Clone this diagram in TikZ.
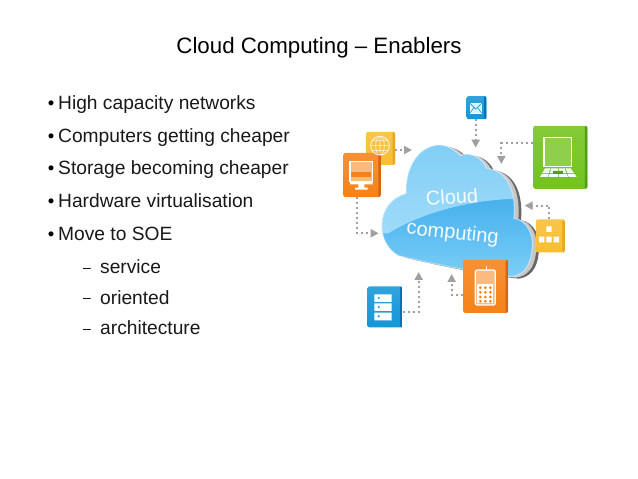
\documentclass[tikz,border=0pt]{standalone}
\usepackage{fontspec}
\setmainfont{Liberation Sans}
\usetikzlibrary{arrows.meta, calc}
\definecolor{skytop}{RGB}{128, 206, 246}
\definecolor{skymid}{RGB}{72, 176, 236}
\definecolor{skylow}{RGB}{125, 208, 248}
\definecolor{iconblue}{RGB}{20, 150, 215}
\definecolor{iconorange}{RGB}{245, 130, 25}
\definecolor{icongreen}{RGB}{115, 195, 30}
\definecolor{iconyellow}{RGB}{248, 190, 50}
\definecolor{sideblue}{RGB}{15, 110, 175}
\definecolor{sideorange}{RGB}{215, 100, 15}
\definecolor{sidegreen}{RGB}{80, 160, 20}
\definecolor{sideyellow}{RGB}{235, 165, 30}
\definecolor{arrowgray}{RGB}{160, 160, 160}
\newcommand{\cloudpath}{(205,512) .. controls (165,490) and (148,440) .. (158,400)
    .. controls (165,360) and (195,335) .. (228,325)
    .. controls (225,260) and (255,190) .. (320,180)
    .. controls (350,177) and (375,195) .. (390,212)
    .. controls (415,198) and (455,215) .. (470,250)
    .. controls (520,255) and (560,300) .. (552,400)
    .. controls (590,405) and (615,450) .. (605,500)
    .. controls (600,545) and (580,570) .. (545,575)
    .. controls (450,565) and (300,535) .. (205,512) -- cycle}
\tikzset{
    itemtext/.style={anchor=base west, inner sep=0pt, font=\fontsize{19.2}{21}\selectfont, text=black!90},
    bulletmark/.style={anchor=base, inner sep=0pt, font=\fontsize{18.5}{20}\selectfont},
    dashmark/.style={anchor=base, inner sep=0pt, font=\fontsize{14}{16}\selectfont},
    iconbox/.style n args={4}{rounded corners=2pt, inner sep=0pt, minimum width=#1, minimum height=#2, top color=#3!88!white, bottom color=#3,
        path picture={\fill[#4] ($(path picture bounding box.north east)+(-2.5pt,0)$) rectangle (path picture bounding box.south east);}},
    flowline/.style={arrowgray, line width=2pt, dash pattern=on 2pt off 3pt, -{Triangle[length=8pt, width=8pt]}},
    glyph/.style={white, line width=0.9pt},
    cloudword/.style={white!92!skytop, inner sep=0pt, font=\fontsize{20}{22}\selectfont}
}
\begin{document}
\begin{tikzpicture}[x=1pt, y=-1pt]
    \useasboundingbox (0,0) rectangle (638,479);
    \fill[white] (0,0) rectangle (638,479);

    % Title
    \node[anchor=base, inner sep=0pt, font=\fontsize{22.3}{24}\selectfont] (title) at (319,53) {Cloud Computing – Enablers};

    % Bullet list
    \node[bulletmark] (b1) at (51,109) {•};
    \node[itemtext] (t1) at (58,109) {High capacity networks};
    \node[bulletmark] (b2) at (51,142) {•};
    \node[itemtext] (t2) at (58,142) {Computers getting cheaper};
    \node[bulletmark] (b3) at (51,174) {•};
    \node[itemtext] (t3) at (58,174) {Storage becoming cheaper};
    \node[bulletmark] (b4) at (51,207) {•};
    \node[itemtext] (t4) at (58,207) {Hardware virtualisation};
    \node[bulletmark] (b5) at (51,240) {•};
    \node[itemtext] (t5) at (58,240) {Move to SOE};

    % Sub list
    \node[dashmark] (d1) at (87,272) {–};
    \node[itemtext] (s1) at (100,273) {service};
    \node[dashmark] (d2) at (87,302) {–};
    \node[itemtext] (s2) at (100,304) {oriented};
    \node[dashmark] (d3) at (87,333) {–};
    \node[itemtext] (s3) at (100,334) {architecture};

    % Artwork, in 3x units
    \begin{scope}[shift={(330,85)}, scale=1/3]
        % Cloud body
        \fill[black!60] [shift={(21,6)}] \cloudpath;
        \fill[black!22] [shift={(13,3)}] \cloudpath;
        \begin{scope}
            \clip \cloudpath;
            \shade[top color=skymid, bottom color=skylow] (140,340) rectangle (630,590);
            \shade[top color=skytop, bottom color=skytop!75!white] (140,170) -- (570,170) -- (570,342)
                .. controls (430,340) and (270,385) .. (175,445) -- (140,445) -- cycle;
        \end{scope}
        \draw[white, opacity=0.4, line width=1.2pt] \cloudpath;
        \node[cloudword, rotate=4] (cloudtxt) at (366,336) {Cloud};
        \node[cloudword, rotate=-6] (computingtxt) at (368,446) {computing};

        % Icons
        \node[iconbox={20pt}{23pt}{iconblue}{sideblue}] (mail) at (440,68) {};
        \node[iconbox={29pt}{33pt}{iconyellow}{sideyellow}] (globe) at (152,190) {};
        \node[iconbox={37.5pt}{44pt}{iconorange}{sideorange}] (monitor) at (96,270) {};
        \node[iconbox={54pt}{63pt}{icongreen}{sidegreen}] (laptop) at (691,217) {};
        \node[iconbox={29pt}{33pt}{iconyellow}{sideyellow}] (blocks) at (661,453) {};
        \node[iconbox={45pt}{53pt}{iconorange}{sideorange}] (phone) at (467,604) {};
        \node[iconbox={35pt}{41pt}{iconblue}{sideblue}] (server) at (165,666) {};

        % Mail glyph
        \draw[glyph, fill=white!85!cyan] (420,55) rectangle (455,84);
        \draw[iconblue, line width=0.6pt] (420,55) -- (437,72) -- (455,55) (420,84) -- (432,67) (455,84) -- (442,67);

        % Globe glyph
        \draw[glyph, opacity=0.8] (150,182) circle (28);
        \draw[glyph, opacity=0.8, line width=0.6pt] (150,182) ellipse (13 and 28) (122,182) -- (178,182) (127,167) -- (173,167) (127,197) -- (173,197) (150,154) -- (150,210);

        % Monitor glyph
        \fill[iconorange!55!white] (60,230) rectangle (128,290);
        \draw[glyph, line width=1.2pt] (60,230) rectangle (128,290);
        \fill[iconorange] (64,262) rectangle (124,275);
        \fill[white] (60,290) rectangle (128,298) (85,298) rectangle (103,308) (75,308) rectangle (113,314);

        % Laptop glyph
        \draw[glyph, line width=1.3pt, fill=icongreen!80!white] (642,158) rectangle (724,245);
        \fill[white] (645,250) -- (722,250) -- (740,276) -- (630,276) -- cycle;
        \draw[sidegreen, line width=0.4pt] (640,258) -- (728,258) (636,266) -- (734,266) (662,250) -- (655,276) (685,250) -- (685,276) (705,250) -- (715,276);
        \fill[sidegreen] (668,258) rectangle (700,268);

        % Blocks glyph
        \fill[white] (649,424) rectangle (665,441) (627,455) rectangle (643,472) (649,455) rectangle (665,472) (671,455) rectangle (687,472);

        % Phone glyph
        \draw[glyph, line width=1.3pt, rounded corners=2pt, fill=iconorange!55!white] (436,555) rectangle (496,660);
        \draw[glyph, line width=1.3pt] (470,555) -- (470,542);
        \fill[white] (442,598) rectangle (490,655);
        \foreach \col in {451,466,481} {
            \foreach \row in {608,622,636,649} {
                \fill[iconorange] (\col,\row) circle (4.5);
            }
        }

        % Server glyph
        \fill[white] (133,628) rectangle (185,651) (133,655) rectangle (185,678) (133,683) rectangle (185,706);
        \fill[iconblue] (146,639) circle (3.5) (146,666) circle (3.5) (146,694) circle (3.5);

        % Arrow ends
        \coordinate (mailin) at (437,188);
        \coordinate (globein) at (246,195);
        \coordinate (monin) at (146,445);
        \coordinate (lapin) at (514,237);
        \coordinate (blockin) at (584,362);
        \coordinate (phonein) at (365,567);
        \coordinate (serverin) at (266,561);

        % Arrows
        \draw[flowline] (mail.south -| mailin) -- (mailin);
        \draw[flowline] (globe.east |- globein) -- (globein);
        \draw[flowline] (monitor.258) |- (monin);
        \draw[flowline] (laptop.153) -| (lapin);
        \draw[flowline] (blocks.95) |- (blockin);
        \draw[flowline] (phone.200) -| (phonein);
        \draw[flowline] (server.345) -| (serverin);
    \end{scope}
\end{tikzpicture}
\end{document}
